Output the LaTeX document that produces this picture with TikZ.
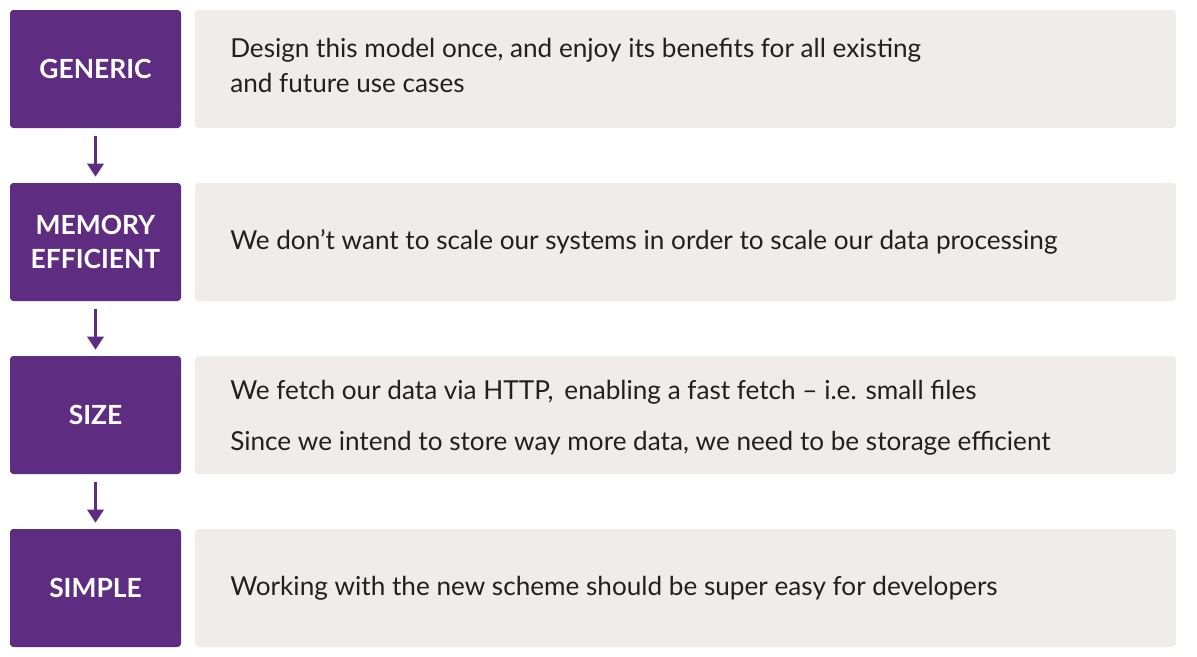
\documentclass[tikz,border=0pt]{standalone}
\usepackage{fontspec}
\setmainfont{Lato}
\usetikzlibrary{arrows.meta}
\definecolor{plum}{HTML}{5E2D82}
\definecolor{pale}{HTML}{F0ECE9}
\definecolor{ink}{HTML}{231F20}
\tikzset{
  lab/.style={fill=plum, rounded corners=2.5pt, inner sep=0pt, minimum width=128.25pt, minimum height=88.5pt, text=white, font=\fontsize{19.8}{25.5}\selectfont\bfseries, align=center},
  panel/.style={fill=pale, rounded corners=2.5pt, inner sep=0pt, minimum width=735.75pt, minimum height=88.5pt},
  body/.style={anchor=base west, inner sep=0pt, text=ink, font=\fontsize{19.6}{23}\selectfont},
  arr/.style={draw=plum, line width=2.25pt, -{Triangle[width=12pt,length=9.75pt]}, shorten <=6pt, shorten >=4.5pt}
}
\begin{document}
\begin{tikzpicture}[x=0.75pt,y=-0.75pt]
\useasboundingbox (0,0) rectangle (1197,657);
% labels
\node[lab] (l1) at (95.5,69) {GENERIC};
\node[lab] (l2) at (95.5,242) {MEMORY\\EFFICIENT};
\node[lab] (l3) at (95.5,415) {SIZE};
\node[lab] (l4) at (95.5,588) {SIMPLE};
% panels
\node[panel] (p1) at (685.5,69) {};
\node[panel] (p2) at (685.5,242) {};
\node[panel] (p3) at (685.5,415) {};
\node[panel] (p4) at (685.5,588) {};
% texts
\node[body] (t1a) at (230,57.3) {Design this model once, and enjoy its benefits for all existing};
\node[body] (t1b) at (230,92.3) {and future use cases};
\node[body] (t2) at (230,249) {We don’t want to scale our systems in order to scale our data processing};
\node[body] (t3a) at (230,399.3) {We fetch our data via HTTP,\, enabling a fast fetch – i.e. small files};
\node[body] (t3b) at (230,450) {Since we intend to store way more data, we need to be storage efficient};
\node[body] (t4) at (230,595) {Working with the new scheme should be super easy for developers};
% arrows
\draw[arr] (l1.south) -- (l2.north);
\draw[arr] (l2.south) -- (l3.north);
\draw[arr] (l3.south) -- (l4.north);
\end{tikzpicture}
\end{document}
